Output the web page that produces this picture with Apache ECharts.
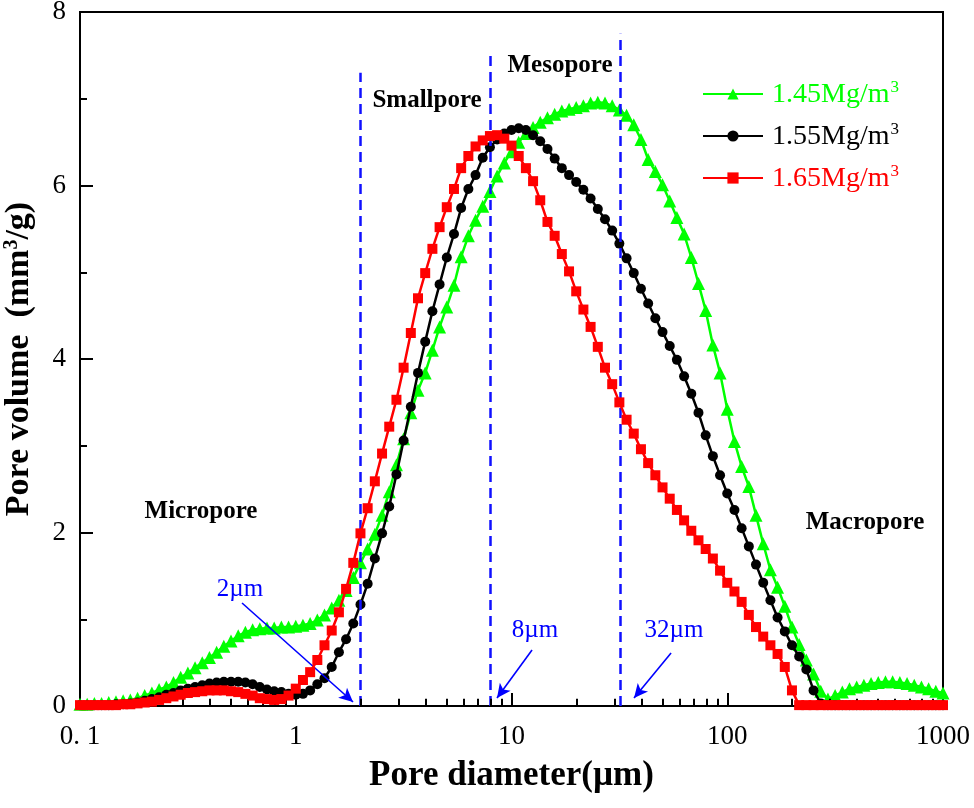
<!DOCTYPE html>
<html>
<head>
<meta charset="utf-8">
<script src="https://cdn.jsdelivr.net/npm/echarts/dist/echarts.min.js"></script>
<style>
html,body{margin:0;padding:0;background:#fff;}
#chart{width:974px;height:808px;}
</style>
</head>
<body>
<div id="chart"></div>
<script>
// Pore diameter (µm), log-spaced sample points
const diameters = [
 0.1,0.108,0.1166,0.1259,0.1359,0.1468,0.1585,0.1711,0.1848,0.1995,0.2154,0.2326,0.2512,0.2712,0.2929,0.3162,0.3415,0.3687,0.3981,0.4299,0.4642,0.5012,0.5412,0.5843,0.631,0.6813,0.7356,0.7943,0.8577,0.9261,
 1,1.08,1.166,1.259,1.359,1.468,1.585,1.711,1.848,1.995,2.154,2.326,2.512,2.712,2.929,3.162,3.415,3.687,3.981,4.299,4.642,5.012,5.412,5.843,6.31,6.813,7.356,7.943,8.577,9.261,
 10,10.8,11.66,12.59,13.59,14.68,15.85,17.11,18.48,19.95,21.54,23.26,25.12,27.12,29.29,31.62,34.15,36.87,39.81,42.99,46.42,50.12,54.12,58.43,63.1,68.13,73.56,79.43,85.77,92.61,
 100,108,116.6,125.9,135.9,146.8,158.5,171.1,184.8,199.5,215.4,232.6,251.2,271.2,292.9,316.2,341.5,368.7,398.1,429.9,464.2,501.2,541.2,584.3,631,681.3,735.6,794.3,857.7,926.1,1000
];
// Pore volume (mm3/g)
const v145 = [
 0.02,0.02,0.03,0.03,0.04,0.05,0.06,0.07,0.09,0.12,
 0.15,0.19,0.22,0.27,0.33,0.38,0.44,0.50,0.56,0.62,
 0.69,0.75,0.81,0.85,0.88,0.89,0.90,0.90,0.91,0.91,
 0.92,0.93,0.95,0.99,1.05,1.13,1.22,1.33,1.48,1.65,
 1.81,1.98,2.20,2.47,2.78,3.08,3.38,3.64,3.84,4.10,
 4.37,4.60,4.85,5.18,5.42,5.60,5.76,5.93,6.11,6.26,
 6.39,6.50,6.60,6.67,6.73,6.78,6.82,6.86,6.88,6.90,
 6.92,6.95,6.96,6.95,6.92,6.87,6.81,6.70,6.53,6.30,
 6.16,6.01,5.82,5.63,5.44,5.17,4.87,4.56,4.16,3.84,
 3.42,3.05,2.76,2.53,2.20,1.87,1.57,1.37,1.15,0.91,
 0.71,0.53,0.37,0.17,0.08,0.12,0.16,0.20,0.22,0.24,
 0.26,0.27,0.28,0.28,0.27,0.26,0.24,0.22,0.20,0.17,
 0.15
];
const v155 = [
 0.01,0.01,0.01,0.01,0.01,0.02,0.02,0.03,0.04,0.06,
 0.08,0.10,0.13,0.15,0.18,0.20,0.22,0.24,0.26,0.27,
 0.28,0.28,0.28,0.27,0.25,0.22,0.19,0.17,0.16,0.14,
 0.13,0.14,0.18,0.25,0.32,0.45,0.62,0.77,0.95,1.17,
 1.41,1.70,1.99,2.30,2.67,3.06,3.45,3.84,4.20,4.55,
 4.86,5.17,5.44,5.74,5.96,6.12,6.32,6.44,6.53,6.60,
 6.64,6.66,6.64,6.58,6.51,6.42,6.31,6.20,6.12,6.04,
 5.95,5.85,5.73,5.61,5.48,5.33,5.16,4.99,4.81,4.64,
 4.47,4.31,4.15,3.99,3.80,3.60,3.38,3.12,2.88,2.66,
 2.45,2.26,2.05,1.84,1.63,1.42,1.22,1.02,0.86,0.70,
 0.57,0.42,0.18,0.03,0.01,0.01,0.01,0.01,0.01,0.01,
 0.01,0.01,0.01,0.01,0.01,0.01,0.01,0.01,0.01,0.01,
 0.01
];
const v165 = [
 0.01,0.01,0.01,0.01,0.01,0.01,0.02,0.02,0.03,0.04,
 0.05,0.07,0.09,0.11,0.13,0.15,0.16,0.17,0.18,0.18,
 0.18,0.17,0.16,0.14,0.12,0.09,0.08,0.07,0.08,0.12,
 0.20,0.30,0.39,0.53,0.70,0.87,1.08,1.35,1.65,1.99,
 2.28,2.59,2.91,3.22,3.53,3.90,4.30,4.70,4.99,5.27,
 5.52,5.75,5.96,6.20,6.34,6.45,6.52,6.57,6.58,6.54,
 6.46,6.34,6.20,6.05,5.83,5.58,5.42,5.21,5.01,4.78,
 4.57,4.37,4.14,3.90,3.71,3.50,3.30,3.14,2.96,2.80,
 2.66,2.52,2.39,2.26,2.14,2.02,1.91,1.81,1.70,1.56,
 1.42,1.32,1.20,1.05,0.91,0.80,0.70,0.60,0.45,0.18,
 0.01,0.01,0.01,0.01,0.01,0.01,0.01,0.01,0.01,0.01,
 0.01,0.01,0.01,0.01,0.01,0.01,0.01,0.01,0.01,0.01,
 0.01
];
const seriesNames = ['1.45Mg/m3', '1.55Mg/m3', '1.65Mg/m3'];
const seriesColors = ['#00ff00', '#000000', '#ff0000'];
const xTickLabels = {0.1: '0. 1', 1: '1', 10: '10', 100: '100', 1000: '1000'};
const xMinorTicks = [0.2,0.3,0.4,0.5,0.6,0.7,0.8,0.9,2,3,4,5,6,7,8,9,20,30,40,50,60,70,80,90,200,300,400,500,600,700,800,900];
const xMinorTickTop = 0.085; // tick height in y units
// Boundary lines (diameter, top value)
const boundaryX = [2, 8, 32];
const boundaryTop = [7.30, 7.50, 7.75];
// Region labels
const regionText = ['Micropore', 'Smallpore', 'Mesopore', 'Macropore'];
const regionX = [0.3638, 4.06, 16.78, 435];
const regionY = [2.236, 6.974, 7.378, 2.11];
// Size labels and arrows
const sizeText = ['2µm', '8µm', '32µm'];
const sizeX = [0.5515, 12.85, 56.65];
const sizeY = [1.349, 0.876, 0.876];
const arrowFrom = [[0.5636, 1.187], [12.45, 0.646], [54.9, 0.611]];
const arrowTo = [[1.843, 0.046], [8.567, 0.092], [36.97, 0.092]];

const FONT = '"Times New Roman", "Liberation Serif", serif';
const chart = echarts.init(document.getElementById('chart'));

const symbols = ['triangle', 'circle', 'rect'];
const symSizes = [13, 10, 10];
const valueSets = [v145, v155, v165];

const mainSeries = valueSets.map((vals, k) => ({
  name: seriesNames[k],
  type: 'line',
  data: diameters.map((d, i) => [d, vals[i]]),
  symbol: symbols[k],
  symbolSize: symSizes[k],
  showAllSymbol: true,
  showSymbol: true,
  color: seriesColors[k],
  lineStyle: {width: 2.5, color: seriesColors[k]},
  itemStyle: {color: seriesColors[k], opacity: 1},
  z: 3 + k,
  animation: false
}));

const textLabel = (color, weight) => ({
  show: true,
  position: [0, 0],
  align: 'center',
  verticalAlign: 'middle',
  formatter: p => p.name,
  color: color,
  opacity: 1,
  textBorderWidth: 0,
  fontFamily: FONT,
  fontSize: 25,
  fontWeight: weight
});

const option = {
  animation: false,
  backgroundColor: '#fff',
  grid: {left: 80, right: 31, top: 12, bottom: 102, outerBoundsMode: 'none', containLabel: false, show: true, borderColor: '#000', borderWidth: 2, backgroundColor: 'transparent'},
  legend: {
    orient: 'vertical',
    left: 697,
    top: 74,
    itemWidth: 60,
    itemHeight: 14,
    itemGap: 12,
    data: seriesNames.map((n, k) => ({name: n, textStyle: {color: seriesColors[k]}})),
    formatter: n => '{m|' + n.slice(0, -1) + '}{s|' + n.slice(-1) + '}',
    textStyle: {
      fontFamily: FONT, fontSize: 28,
      rich: {
        m: {fontFamily: FONT, fontSize: 28, lineHeight: 30, verticalAlign: 'bottom', padding: [0, 0, 0, 4]},
        s: {fontFamily: FONT, fontSize: 17, lineHeight: 30, verticalAlign: 'top', padding: [0, 0, 0, 1]}
      }
    }
  },
  xAxis: {
    type: 'log',
    logBase: 10,
    min: 0.1,
    max: 1000,
    splitNumber: 4,
    name: 'Pore diameter(µm)',
    nameLocation: 'middle',
    nameGap: 52,
    nameTextStyle: {fontFamily: FONT, fontSize: 35, fontWeight: 'bold', color: '#000'},
    axisLine: {lineStyle: {color: '#000', width: 2}},
    axisTick: {inside: true, length: 13, lineStyle: {color: '#000', width: 2}},
    axisLabel: {
      color: '#000', fontFamily: FONT, fontSize: 27, margin: 17,
      showMinLabel: true, showMaxLabel: true,
      formatter: v => {
        const key = Object.keys(xTickLabels).find(k => Math.abs(Math.log10(+k) - Math.log10(v)) < 1e-6);
        return key !== undefined ? xTickLabels[key] : '';
      }
    },
    splitLine: {show: false}
  },
  yAxis: {
    type: 'value',
    min: 0,
    max: 8,
    interval: 2,
    name: 'Pore volume  (mm{s|3}/g)',
    nameLocation: 'middle',
    nameGap: 44,
    nameTextStyle: {
      fontFamily: FONT, fontSize: 34, fontWeight: 'bold', color: '#000',
      rich: {s: {fontFamily: FONT, fontSize: 20, fontWeight: 'bold', color: '#000', verticalAlign: 'top', lineHeight: 34}}
    },
    axisLine: {lineStyle: {color: '#000', width: 2}},
    axisTick: {inside: true, length: 13, lineStyle: {color: '#000', width: 2}},
    minorTick: {show: true, splitNumber: 2, length: 7, lineStyle: {color: '#000', width: 2}},
    axisLabel: {color: '#000', fontFamily: FONT, fontSize: 27, margin: 14},
    splitLine: {show: false}
  },
  series: [
    {
      name: 'boundaries',
      type: 'line',
      data: [],
      silent: true,
      markLine: {
        silent: true,
        animation: false,
        symbol: ['none', 'none'],
        label: {show: false},
        lineStyle: {color: '#1010ff', width: 2.5, type: [10, 6]},
        data: boundaryX.map((x, i) => [{coord: [x, 0]}, {coord: [x, boundaryTop[i]]}])
      },
      z: 2
    },
    ...mainSeries,
    {
      name: 'arrows',
      type: 'line',
      data: [],
      silent: true,
      markLine: {
        silent: true,
        animation: false,
        symbol: ['none', 'arrow'],
        symbolSize: [10, 14],
        label: {show: false},
        lineStyle: {color: '#0000ff', width: 1.6, type: 'solid'},
        data: arrowFrom.map((f, i) => [{coord: f}, {coord: arrowTo[i]}])
      },
      z: 10
    },
    {
      name: 'minorTicksX',
      type: 'line',
      data: [],
      silent: true,
      markLine: {
        silent: true,
        animation: false,
        symbol: ['none', 'none'],
        label: {show: false},
        lineStyle: {color: '#000', width: 2, type: 'solid'},
        data: xMinorTicks.map(d => [{coord: [d, 0]}, {coord: [d, xMinorTickTop]}])
      },
      z: 12
    },
    {
      name: 'regionLabels',
      type: 'scatter',
      data: regionText.map((t, i) => ({value: [regionX[i], regionY[i]], name: t})),
      symbolSize: 0,
      itemStyle: {opacity: 1},
      silent: true,
      label: textLabel('#000000', 'bold'),
      z: 11
    },
    {
      name: 'sizeLabels',
      type: 'scatter',
      data: sizeText.map((t, i) => ({value: [sizeX[i], sizeY[i]], name: t})),
      symbolSize: 0,
      itemStyle: {opacity: 1},
      silent: true,
      label: textLabel('#0000ff', 'normal'),
      z: 11
    }
  ]
};
chart.setOption(option);
</script>
</body>
</html>
